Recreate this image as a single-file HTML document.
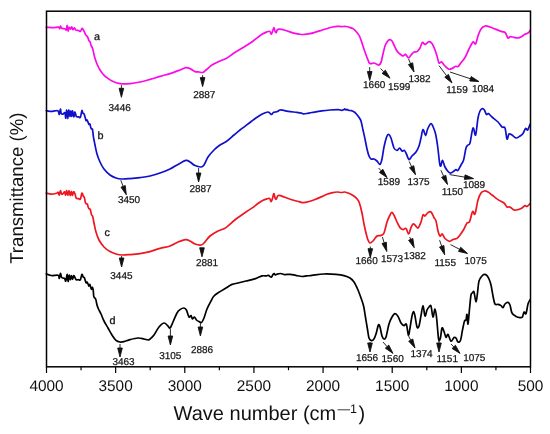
<!DOCTYPE html><html><head><meta charset="utf-8"><title>FTIR spectra</title>
<style>html,body{margin:0;padding:0;background:#fff;}svg{display:block;}text{font-family:"Liberation Sans",Arial,sans-serif;fill:#111;text-rendering:geometricPrecision;}</style></head><body>
<svg width="550" height="434" viewBox="0 0 550 434">
<rect width="550" height="434" fill="#fff"/>
<path d="M46.30 27.40 C47.43 27.43 51.07 27.63 53.10 27.60 C55.13 27.57 57.42 27.02 58.50 27.20 C59.58 27.38 59.27 28.90 59.60 28.70 C59.93 28.50 60.15 26.07 60.50 26.00 C60.85 25.93 60.97 27.85 61.70 28.30 C62.43 28.75 64.13 28.40 64.90 28.70 C65.67 29.00 65.92 30.63 66.30 30.10 C66.68 29.57 66.90 25.35 67.20 25.50 C67.50 25.65 67.80 30.68 68.10 31.00 C68.40 31.32 68.62 27.70 69.00 27.40 C69.38 27.10 69.95 29.28 70.40 29.20 C70.85 29.12 71.28 26.83 71.70 26.90 C72.12 26.97 72.43 29.45 72.90 29.60 C73.37 29.75 74.02 27.72 74.50 27.80 C74.98 27.88 75.13 29.65 75.80 30.10 C76.47 30.55 77.73 30.30 78.50 30.50 C79.27 30.70 79.82 31.63 80.40 31.30 C80.98 30.97 81.53 28.77 82.00 28.50 C82.47 28.23 82.78 29.10 83.20 29.70 C83.62 30.30 84.08 31.23 84.50 32.10 C84.92 32.97 85.30 34.23 85.70 34.90 C86.10 35.57 86.50 35.57 86.90 36.10 C87.30 36.63 87.77 37.35 88.10 38.10 C88.43 38.85 88.57 39.98 88.90 40.60 C89.23 41.22 89.77 41.07 90.10 41.80 C90.43 42.53 90.57 44.07 90.90 45.00 C91.23 45.93 91.77 46.67 92.10 47.40 C92.43 48.13 92.63 48.45 92.90 49.40 C93.17 50.35 93.42 51.83 93.70 53.10 C93.98 54.37 94.05 55.18 94.60 57.00 C95.15 58.82 96.10 61.83 97.00 64.00 C97.90 66.17 99.00 68.33 100.00 70.00 C101.00 71.67 102.00 72.83 103.00 74.00 C104.00 75.17 104.50 75.83 106.00 77.00 C107.50 78.17 109.67 79.90 112.00 81.00 C114.33 82.10 117.00 83.17 120.00 83.60 C123.00 84.03 126.67 83.87 130.00 83.60 C133.33 83.33 136.67 82.70 140.00 82.00 C143.33 81.30 146.67 80.33 150.00 79.40 C153.33 78.47 156.67 77.37 160.00 76.40 C163.33 75.43 166.67 74.67 170.00 73.60 C173.33 72.53 177.33 71.00 180.00 70.00 C182.67 69.00 184.33 67.83 186.00 67.60 C187.67 67.37 188.50 67.93 190.00 68.60 C191.50 69.27 193.50 71.03 195.00 71.60 C196.50 72.17 197.67 71.87 199.00 72.00 C200.33 72.13 201.83 72.73 203.00 72.40 C204.17 72.07 204.50 71.23 206.00 70.00 C207.50 68.77 209.67 66.50 212.00 65.00 C214.33 63.50 217.67 62.07 220.00 61.00 C222.33 59.93 223.67 59.93 226.00 58.60 C228.33 57.27 231.00 54.93 234.00 53.00 C237.00 51.07 240.97 48.87 244.00 47.00 C247.03 45.13 250.12 43.25 252.20 41.80 C254.28 40.35 254.87 39.55 256.50 38.30 C258.13 37.05 260.35 35.33 262.00 34.30 C263.65 33.27 265.13 32.60 266.40 32.10 C267.67 31.60 268.78 30.95 269.60 31.30 C270.42 31.65 270.75 34.38 271.30 34.20 C271.85 34.02 272.45 31.28 272.90 30.20 C273.35 29.12 273.63 27.52 274.00 27.70 C274.37 27.88 274.73 30.47 275.10 31.30 C275.47 32.13 275.83 32.93 276.20 32.70 C276.57 32.47 276.77 30.50 277.30 29.90 C277.83 29.30 278.13 29.05 279.40 29.10 C280.67 29.15 282.53 29.53 284.90 30.20 C287.27 30.87 291.23 32.43 293.60 33.10 C295.97 33.77 297.47 33.97 299.10 34.20 C300.73 34.43 301.58 34.60 303.40 34.50 C305.22 34.40 308.07 33.97 310.00 33.60 C311.93 33.23 313.03 32.87 315.00 32.30 C316.97 31.73 319.63 30.88 321.80 30.20 C323.97 29.52 326.18 28.73 328.00 28.20 C329.82 27.67 331.18 27.32 332.70 27.00 C334.22 26.68 335.65 26.37 337.10 26.30 C338.55 26.23 339.95 26.57 341.40 26.60 C342.85 26.63 344.33 26.33 345.80 26.50 C347.27 26.67 348.93 27.20 350.20 27.60 C351.47 28.00 352.32 28.13 353.40 28.90 C354.48 29.67 355.70 31.02 356.70 32.20 C357.70 33.38 358.52 34.20 359.40 36.00 C360.28 37.80 361.07 40.33 362.00 43.00 C362.93 45.67 364.00 49.17 365.00 52.00 C366.00 54.83 367.17 58.07 368.00 60.00 C368.83 61.93 369.00 63.10 370.00 63.60 C371.00 64.10 372.83 62.87 374.00 63.00 C375.17 63.13 376.17 64.07 377.00 64.40 C377.83 64.73 378.33 65.33 379.00 65.00 C379.67 64.67 380.33 64.23 381.00 62.40 C381.67 60.57 382.33 56.73 383.00 54.00 C383.67 51.27 384.33 48.00 385.00 46.00 C385.67 44.00 386.23 43.07 387.00 42.00 C387.77 40.93 388.77 39.77 389.60 39.60 C390.43 39.43 391.27 40.10 392.00 41.00 C392.73 41.90 393.17 43.33 394.00 45.00 C394.83 46.67 396.00 49.50 397.00 51.00 C398.00 52.50 399.00 53.17 400.00 54.00 C401.00 54.83 402.07 55.93 403.00 56.00 C403.93 56.07 404.67 54.07 405.60 54.40 C406.53 54.73 407.70 57.90 408.60 58.00 C409.50 58.10 410.10 56.00 411.00 55.00 C411.90 54.00 413.00 52.57 414.00 52.00 C415.00 51.43 416.00 52.27 417.00 51.60 C418.00 50.93 419.10 49.53 420.00 48.00 C420.90 46.47 421.57 43.00 422.40 42.40 C423.23 41.80 423.90 44.53 425.00 44.40 C426.10 44.27 427.83 41.73 429.00 41.60 C430.17 41.47 431.00 42.20 432.00 43.60 C433.00 45.00 434.17 47.93 435.00 50.00 C435.83 52.07 436.33 53.83 437.00 56.00 C437.67 58.17 438.25 62.03 439.00 63.00 C439.75 63.97 440.67 61.47 441.50 61.80 C442.33 62.13 443.25 64.13 444.00 65.00 C444.75 65.87 445.17 66.30 446.00 67.00 C446.83 67.70 447.92 68.98 449.00 69.20 C450.08 69.42 451.42 68.78 452.50 68.30 C453.58 67.82 454.58 66.58 455.50 66.30 C456.42 66.02 457.08 67.20 458.00 66.60 C458.92 66.00 459.83 64.22 461.00 62.70 C462.17 61.18 463.67 59.78 465.00 57.50 C466.33 55.22 467.67 51.58 469.00 49.00 C470.33 46.42 471.90 42.83 473.00 42.00 C474.10 41.17 474.77 45.00 475.60 44.00 C476.43 43.00 477.10 38.50 478.00 36.00 C478.90 33.50 479.83 30.67 481.00 29.00 C482.17 27.33 483.50 26.33 485.00 26.00 C486.50 25.67 488.17 26.43 490.00 27.00 C491.83 27.57 494.00 28.63 496.00 29.40 C498.00 30.17 500.47 31.07 502.00 31.60 C503.53 32.13 504.20 31.53 505.20 32.60 C506.20 33.67 507.13 37.33 508.00 38.00 C508.87 38.67 509.40 36.70 510.40 36.60 C511.40 36.50 512.85 37.17 514.00 37.40 C515.15 37.63 516.30 38.00 517.30 38.00 C518.30 38.00 519.05 37.78 520.00 37.40 C520.95 37.02 522.20 36.22 523.00 35.70 C523.80 35.18 524.13 34.65 524.80 34.30 C525.47 33.95 526.33 33.93 527.00 33.60 C527.67 33.27 528.27 32.87 528.80 32.30 C529.33 31.73 529.97 30.55 530.20 30.20" fill="none" stroke="#fa0ae6" stroke-width="1.7" stroke-linejoin="round" stroke-linecap="round"/>
<path d="M46.30 110.70 C47.13 110.82 49.87 111.37 51.30 111.40 C52.73 111.43 53.77 110.98 54.90 110.90 C56.03 110.82 57.37 110.30 58.10 110.90 C58.83 111.50 58.92 114.80 59.30 114.50 C59.68 114.20 60.07 109.25 60.40 109.10 C60.73 108.95 60.85 112.77 61.30 113.60 C61.75 114.43 62.50 114.25 63.10 114.10 C63.70 113.95 64.45 112.02 64.90 112.70 C65.35 113.38 65.50 118.65 65.80 118.20 C66.10 117.75 66.37 109.93 66.70 110.00 C67.03 110.07 67.47 118.60 67.80 118.60 C68.13 118.60 68.35 110.37 68.70 110.00 C69.05 109.63 69.55 116.25 69.90 116.40 C70.25 116.55 70.50 110.90 70.80 110.90 C71.10 110.90 71.40 116.40 71.70 116.40 C72.00 116.40 72.25 110.83 72.60 110.90 C72.95 110.97 73.42 116.65 73.80 116.80 C74.18 116.95 74.48 111.87 74.90 111.80 C75.32 111.73 75.70 115.57 76.30 116.40 C76.90 117.23 77.82 116.65 78.50 116.80 C79.18 116.95 79.83 118.33 80.40 117.30 C80.97 116.27 81.50 111.30 81.90 110.60 C82.30 109.90 82.45 112.55 82.80 113.10 C83.15 113.65 83.58 113.10 84.00 113.90 C84.42 114.70 84.95 116.77 85.30 117.90 C85.65 119.03 85.82 120.37 86.10 120.70 C86.38 121.03 86.67 119.63 87.00 119.90 C87.33 120.17 87.78 121.55 88.10 122.30 C88.42 123.05 88.60 124.12 88.90 124.40 C89.20 124.68 89.63 123.67 89.90 124.00 C90.17 124.33 90.27 125.60 90.50 126.40 C90.73 127.20 90.98 128.33 91.30 128.80 C91.62 129.27 92.13 128.60 92.40 129.20 C92.67 129.80 92.72 131.05 92.90 132.40 C93.08 133.75 93.28 135.87 93.50 137.30 C93.72 138.73 93.95 139.72 94.20 141.00 C94.45 142.28 94.53 142.83 95.00 145.00 C95.47 147.17 96.17 151.17 97.00 154.00 C97.83 156.83 98.83 159.50 100.00 162.00 C101.17 164.50 102.33 166.83 104.00 169.00 C105.67 171.17 108.00 173.50 110.00 175.00 C112.00 176.50 114.00 177.33 116.00 178.00 C118.00 178.67 119.67 178.90 122.00 179.00 C124.33 179.10 127.00 178.83 130.00 178.60 C133.00 178.37 136.67 178.03 140.00 177.60 C143.33 177.17 146.67 176.77 150.00 176.00 C153.33 175.23 156.67 174.17 160.00 173.00 C163.33 171.83 167.00 170.43 170.00 169.00 C173.00 167.57 175.33 165.83 178.00 164.40 C180.67 162.97 184.00 160.80 186.00 160.40 C188.00 160.00 188.50 161.13 190.00 162.00 C191.50 162.87 193.17 164.77 195.00 165.60 C196.83 166.43 199.50 167.10 201.00 167.00 C202.50 166.90 202.83 166.67 204.00 165.00 C205.17 163.33 206.33 159.50 208.00 157.00 C209.67 154.50 212.00 152.00 214.00 150.00 C216.00 148.00 217.83 146.50 220.00 145.00 C222.17 143.50 224.67 142.67 227.00 141.00 C229.33 139.33 231.83 136.83 234.00 135.00 C236.17 133.17 237.33 132.08 240.00 130.00 C242.67 127.92 247.42 124.45 250.00 122.50 C252.58 120.55 253.68 119.60 255.50 118.30 C257.32 117.00 259.27 115.63 260.90 114.70 C262.53 113.77 264.12 113.15 265.30 112.70 C266.48 112.25 267.28 111.97 268.00 112.00 C268.72 112.03 268.97 112.48 269.60 112.90 C270.23 113.32 271.17 114.58 271.80 114.50 C272.43 114.42 272.77 112.82 273.40 112.40 C274.03 111.98 274.95 112.13 275.60 112.00 C276.25 111.87 276.57 111.93 277.30 111.60 C278.03 111.27 279.10 110.23 280.00 110.00 C280.90 109.77 281.33 109.98 282.70 110.20 C284.07 110.42 285.83 110.93 288.20 111.30 C290.57 111.67 294.72 112.10 296.90 112.40 C299.08 112.70 300.22 112.87 301.30 113.10 C302.38 113.33 302.50 113.73 303.40 113.80 C304.30 113.87 305.27 113.72 306.70 113.50 C308.13 113.28 309.48 112.93 312.00 112.50 C314.52 112.07 318.80 111.32 321.80 110.90 C324.80 110.48 327.27 110.22 330.00 110.00 C332.73 109.78 336.30 109.55 338.20 109.60 C340.10 109.65 340.50 110.27 341.40 110.30 C342.30 110.33 343.05 110.03 343.60 109.80 C344.15 109.57 344.33 108.87 344.70 108.90 C345.07 108.93 345.43 109.92 345.80 110.00 C346.17 110.08 346.45 109.35 346.90 109.40 C347.35 109.45 347.77 110.08 348.50 110.30 C349.23 110.52 350.48 110.50 351.30 110.70 C352.12 110.90 352.68 111.10 353.40 111.50 C354.12 111.90 354.87 112.38 355.60 113.10 C356.33 113.82 357.17 114.98 357.80 115.80 C358.43 116.62 358.87 117.13 359.40 118.00 C359.93 118.87 360.40 119.00 361.00 121.00 C361.60 123.00 362.33 127.00 363.00 130.00 C363.67 133.00 364.33 135.83 365.00 139.00 C365.67 142.17 366.33 146.17 367.00 149.00 C367.67 151.83 368.33 154.33 369.00 156.00 C369.67 157.67 370.17 158.50 371.00 159.00 C371.83 159.50 373.00 158.67 374.00 159.00 C375.00 159.33 376.00 160.10 377.00 161.00 C378.00 161.90 379.17 164.73 380.00 164.40 C380.83 164.07 381.33 161.90 382.00 159.00 C382.67 156.10 383.23 150.67 384.00 147.00 C384.77 143.33 385.83 139.10 386.60 137.00 C387.37 134.90 387.87 134.23 388.60 134.40 C389.33 134.57 390.10 135.73 391.00 138.00 C391.90 140.27 393.00 145.93 394.00 148.00 C395.00 150.07 396.07 150.40 397.00 150.40 C397.93 150.40 398.77 147.90 399.60 148.00 C400.43 148.10 401.20 150.60 402.00 151.00 C402.80 151.40 403.67 149.90 404.40 150.40 C405.13 150.90 405.63 152.47 406.40 154.00 C407.17 155.53 408.07 159.27 409.00 159.60 C409.93 159.93 410.83 157.27 412.00 156.00 C413.17 154.73 414.83 153.67 416.00 152.00 C417.17 150.33 418.17 148.33 419.00 146.00 C419.83 143.67 420.33 140.73 421.00 138.00 C421.67 135.27 422.23 130.00 423.00 129.60 C423.77 129.20 424.83 135.70 425.60 135.60 C426.37 135.50 426.70 131.00 427.60 129.00 C428.50 127.00 430.00 123.77 431.00 123.60 C432.00 123.43 432.83 126.27 433.60 128.00 C434.37 129.73 434.93 131.00 435.60 134.00 C436.27 137.00 436.93 141.17 437.60 146.00 C438.27 150.83 439.07 159.67 439.60 163.00 C440.13 166.33 440.32 166.43 440.80 166.00 C441.28 165.57 441.80 160.23 442.50 160.40 C443.20 160.57 444.00 165.07 445.00 167.00 C446.00 168.93 447.50 171.00 448.50 172.00 C449.50 173.00 450.08 173.17 451.00 173.00 C451.92 172.83 453.17 171.57 454.00 171.00 C454.83 170.43 455.33 169.70 456.00 169.60 C456.67 169.50 457.17 171.17 458.00 170.40 C458.83 169.63 460.07 166.73 461.00 165.00 C461.93 163.27 462.77 162.83 463.60 160.00 C464.43 157.17 465.27 150.50 466.00 148.00 C466.73 145.50 467.33 145.83 468.00 145.00 C468.67 144.17 469.17 145.83 470.00 143.00 C470.83 140.17 472.07 129.33 473.00 128.00 C473.93 126.67 474.77 136.67 475.60 135.00 C476.43 133.33 477.27 122.00 478.00 118.00 C478.73 114.00 479.27 112.57 480.00 111.00 C480.73 109.43 481.67 108.77 482.40 108.60 C483.13 108.43 483.73 109.03 484.40 110.00 C485.07 110.97 485.73 113.80 486.40 114.40 C487.07 115.00 487.47 113.17 488.40 113.60 C489.33 114.03 490.40 115.60 492.00 117.00 C493.60 118.40 496.33 120.33 498.00 122.00 C499.67 123.67 500.83 126.00 502.00 127.00 C503.17 128.00 504.17 126.00 505.00 128.00 C505.83 130.00 506.33 138.00 507.00 139.00 C507.67 140.00 508.17 134.67 509.00 134.00 C509.83 133.33 510.83 134.33 512.00 135.00 C513.17 135.67 514.67 137.83 516.00 138.00 C517.33 138.17 518.83 136.73 520.00 136.00 C521.17 135.27 522.07 134.87 523.00 133.60 C523.93 132.33 524.83 129.00 525.60 128.40 C526.37 127.80 526.87 130.67 527.60 130.00 C528.33 129.33 529.60 125.33 530.00 124.40" fill="none" stroke="#1010cc" stroke-width="1.7" stroke-linejoin="round" stroke-linecap="round"/>
<path d="M46.30 193.20 C47.13 193.35 49.57 194.10 51.30 194.10 C53.03 194.10 55.57 193.50 56.70 193.20 C57.83 192.90 57.67 192.00 58.10 192.30 C58.53 192.60 58.92 195.27 59.30 195.00 C59.68 194.73 60.00 190.85 60.40 190.70 C60.80 190.55 61.25 193.62 61.70 194.10 C62.15 194.58 62.63 193.98 63.10 193.60 C63.57 193.22 64.08 191.57 64.50 191.80 C64.92 192.03 65.23 195.22 65.60 195.00 C65.97 194.78 66.33 190.42 66.70 190.50 C67.07 190.58 67.42 195.50 67.80 195.50 C68.18 195.50 68.60 190.50 69.00 190.50 C69.40 190.50 69.82 195.35 70.20 195.50 C70.58 195.65 70.93 191.40 71.30 191.40 C71.67 191.40 72.03 195.43 72.40 195.50 C72.77 195.57 73.08 192.12 73.50 191.80 C73.92 191.48 74.43 192.53 74.90 193.60 C75.37 194.67 75.70 197.37 76.30 198.20 C76.90 199.03 77.82 198.45 78.50 198.60 C79.18 198.75 79.83 200.02 80.40 199.10 C80.97 198.18 81.43 193.63 81.90 193.10 C82.37 192.57 82.77 195.10 83.20 195.90 C83.63 196.70 84.15 196.83 84.50 197.90 C84.85 198.97 85.03 201.33 85.30 202.30 C85.57 203.27 85.77 203.42 86.10 203.70 C86.43 203.98 86.97 203.48 87.30 204.00 C87.63 204.52 87.83 206.00 88.10 206.80 C88.37 207.60 88.57 208.40 88.90 208.80 C89.23 209.20 89.77 208.67 90.10 209.20 C90.43 209.73 90.67 211.07 90.90 212.00 C91.13 212.93 91.23 214.13 91.50 214.80 C91.77 215.47 92.22 215.32 92.50 216.00 C92.78 216.68 92.95 217.73 93.20 218.90 C93.45 220.07 93.53 220.82 94.00 223.00 C94.47 225.18 95.17 229.17 96.00 232.00 C96.83 234.83 97.67 237.50 99.00 240.00 C100.33 242.50 102.17 245.07 104.00 247.00 C105.83 248.93 108.00 250.43 110.00 251.60 C112.00 252.77 114.00 253.43 116.00 254.00 C118.00 254.57 119.67 254.90 122.00 255.00 C124.33 255.10 127.00 254.83 130.00 254.60 C133.00 254.37 136.67 254.10 140.00 253.60 C143.33 253.10 146.67 252.47 150.00 251.60 C153.33 250.73 156.67 249.33 160.00 248.40 C163.33 247.47 167.00 247.07 170.00 246.00 C173.00 244.93 175.40 243.07 178.00 242.00 C180.60 240.93 183.60 239.77 185.60 239.60 C187.60 239.43 188.43 240.27 190.00 241.00 C191.57 241.73 193.17 243.33 195.00 244.00 C196.83 244.67 199.50 245.17 201.00 245.00 C202.50 244.83 202.50 244.50 204.00 243.00 C205.50 241.50 207.67 238.00 210.00 236.00 C212.33 234.00 215.33 232.40 218.00 231.00 C220.67 229.60 223.00 229.60 226.00 227.60 C229.00 225.60 232.67 221.60 236.00 219.00 C239.33 216.40 243.22 213.90 246.00 212.00 C248.78 210.10 250.77 208.97 252.70 207.60 C254.63 206.23 255.87 205.03 257.60 203.80 C259.33 202.57 261.47 201.05 263.10 200.20 C264.73 199.35 266.32 199.00 267.40 198.70 C268.48 198.40 268.95 197.92 269.60 198.40 C270.25 198.88 270.75 201.88 271.30 201.60 C271.85 201.32 272.45 198.02 272.90 196.70 C273.35 195.38 273.60 193.37 274.00 193.70 C274.40 194.03 274.90 197.83 275.30 198.70 C275.70 199.57 276.03 199.32 276.40 198.90 C276.77 198.48 277.00 196.78 277.50 196.20 C278.00 195.62 278.17 195.22 279.40 195.40 C280.63 195.58 282.53 196.50 284.90 197.30 C287.27 198.10 291.23 199.48 293.60 200.20 C295.97 200.92 297.47 201.18 299.10 201.60 C300.73 202.02 301.58 202.77 303.40 202.70 C305.22 202.63 308.07 201.73 310.00 201.20 C311.93 200.67 313.03 200.27 315.00 199.50 C316.97 198.73 319.80 197.47 321.80 196.60 C323.80 195.73 325.18 194.97 327.00 194.30 C328.82 193.63 331.02 192.98 332.70 192.60 C334.38 192.22 335.65 192.02 337.10 192.00 C338.55 191.98 340.13 192.50 341.40 192.50 C342.67 192.50 343.60 191.92 344.70 192.00 C345.80 192.08 346.90 192.60 348.00 193.00 C349.10 193.40 350.22 193.82 351.30 194.40 C352.38 194.98 353.50 195.68 354.50 196.50 C355.50 197.32 356.48 198.22 357.30 199.30 C358.12 200.38 358.62 200.72 359.40 203.00 C360.18 205.28 361.23 209.50 362.00 213.00 C362.77 216.50 363.33 220.67 364.00 224.00 C364.67 227.33 365.33 230.33 366.00 233.00 C366.67 235.67 367.33 238.33 368.00 240.00 C368.67 241.67 369.17 242.83 370.00 243.00 C370.83 243.17 371.83 242.17 373.00 241.00 C374.17 239.83 375.67 236.93 377.00 236.00 C378.33 235.07 379.83 235.90 381.00 235.40 C382.17 234.90 383.00 235.23 384.00 233.00 C385.00 230.77 386.00 225.00 387.00 222.00 C388.00 219.00 389.17 216.60 390.00 215.00 C390.83 213.40 391.27 212.23 392.00 212.40 C392.73 212.57 393.57 214.40 394.40 216.00 C395.23 217.60 396.07 220.07 397.00 222.00 C397.93 223.93 399.00 226.33 400.00 227.60 C401.00 228.87 402.00 229.47 403.00 229.60 C404.00 229.73 405.07 227.67 406.00 228.40 C406.93 229.13 407.77 234.13 408.60 234.00 C409.43 233.87 410.27 229.27 411.00 227.60 C411.73 225.93 412.33 224.43 413.00 224.00 C413.67 223.57 414.17 224.33 415.00 225.00 C415.83 225.67 417.00 228.50 418.00 228.00 C419.00 227.50 420.17 224.17 421.00 222.00 C421.83 219.83 422.33 216.00 423.00 215.00 C423.67 214.00 424.17 216.40 425.00 216.00 C425.83 215.60 427.00 213.27 428.00 212.60 C429.00 211.93 430.00 211.17 431.00 212.00 C432.00 212.83 433.17 216.10 434.00 217.60 C434.83 219.10 435.33 218.77 436.00 221.00 C436.67 223.23 437.33 228.50 438.00 231.00 C438.67 233.50 439.30 235.50 440.00 236.00 C440.70 236.50 441.37 233.58 442.20 234.00 C443.03 234.42 443.78 237.28 445.00 238.50 C446.22 239.72 448.17 241.13 449.50 241.30 C450.83 241.47 451.75 239.98 453.00 239.50 C454.25 239.02 455.83 239.15 457.00 238.40 C458.17 237.65 458.83 236.57 460.00 235.00 C461.17 233.43 462.83 231.00 464.00 229.00 C465.17 227.00 466.07 224.23 467.00 223.00 C467.93 221.77 468.67 223.50 469.60 221.60 C470.53 219.70 471.70 212.87 472.60 211.60 C473.50 210.33 474.10 215.93 475.00 214.00 C475.90 212.07 477.00 203.50 478.00 200.00 C479.00 196.50 479.93 194.50 481.00 193.00 C482.07 191.50 483.23 191.17 484.40 191.00 C485.57 190.83 486.73 191.33 488.00 192.00 C489.27 192.67 490.33 193.73 492.00 195.00 C493.67 196.27 496.00 198.27 498.00 199.60 C500.00 200.93 502.50 201.77 504.00 203.00 C505.50 204.23 506.00 206.33 507.00 207.00 C508.00 207.67 508.83 206.50 510.00 207.00 C511.17 207.50 512.67 209.57 514.00 210.00 C515.33 210.43 516.67 209.93 518.00 209.60 C519.33 209.27 520.83 208.67 522.00 208.00 C523.17 207.33 524.17 205.87 525.00 205.60 C525.83 205.33 526.17 206.73 527.00 206.40 C527.83 206.07 529.50 204.07 530.00 203.60" fill="none" stroke="#ee1620" stroke-width="1.7" stroke-linejoin="round" stroke-linecap="round"/>
<path d="M46.30 273.80 C47.13 274.08 49.33 275.27 51.30 275.50 C53.27 275.73 56.77 274.72 58.10 275.20 C59.43 275.68 58.92 278.70 59.30 278.40 C59.68 278.10 60.00 273.55 60.40 273.40 C60.80 273.25 61.02 276.67 61.70 277.50 C62.38 278.33 63.82 277.80 64.50 278.40 C65.18 279.00 65.35 281.78 65.80 281.10 C66.25 280.42 66.82 274.23 67.20 274.30 C67.58 274.37 67.75 281.35 68.10 281.50 C68.45 281.65 68.92 275.50 69.30 275.20 C69.68 274.90 70.03 279.63 70.40 279.70 C70.77 279.77 71.13 275.67 71.50 275.60 C71.87 275.53 72.22 279.30 72.60 279.30 C72.98 279.30 73.38 275.83 73.80 275.60 C74.22 275.37 74.68 277.22 75.10 277.90 C75.52 278.58 75.73 279.40 76.30 279.70 C76.87 280.00 77.82 279.70 78.50 279.70 C79.18 279.70 79.83 280.58 80.40 279.70 C80.97 278.82 81.43 274.87 81.90 274.40 C82.37 273.93 82.80 276.35 83.20 276.90 C83.60 277.45 83.93 277.03 84.30 277.70 C84.67 278.37 85.10 280.03 85.40 280.90 C85.70 281.77 85.83 282.70 86.10 282.90 C86.37 283.10 86.67 281.90 87.00 282.10 C87.33 282.30 87.78 283.43 88.10 284.10 C88.42 284.77 88.60 286.03 88.90 286.10 C89.20 286.17 89.60 284.30 89.90 284.50 C90.20 284.70 90.43 286.48 90.70 287.30 C90.97 288.12 91.22 289.40 91.50 289.40 C91.78 289.40 92.12 287.17 92.40 287.30 C92.68 287.43 92.98 288.78 93.20 290.20 C93.42 291.62 93.48 294.53 93.70 295.80 C93.92 297.07 94.23 297.37 94.50 297.80 C94.77 298.23 95.03 297.93 95.30 298.40 C95.57 298.87 95.82 299.50 96.10 300.60 C96.38 301.70 96.60 303.60 97.00 305.00 C97.40 306.40 97.83 307.50 98.50 309.00 C99.17 310.50 100.08 312.00 101.00 314.00 C101.92 316.00 102.83 318.67 104.00 321.00 C105.17 323.33 106.67 325.67 108.00 328.00 C109.33 330.33 110.67 332.93 112.00 335.00 C113.33 337.07 114.67 339.23 116.00 340.40 C117.33 341.57 118.67 341.80 120.00 342.00 C121.33 342.20 122.33 342.00 124.00 341.60 C125.67 341.20 127.67 340.20 130.00 339.60 C132.33 339.00 135.67 338.10 138.00 338.00 C140.33 337.90 142.33 338.67 144.00 339.00 C145.67 339.33 147.00 340.00 148.00 340.00 C149.00 340.00 149.00 339.83 150.00 339.00 C151.00 338.17 152.50 337.00 154.00 335.00 C155.50 333.00 157.33 329.00 159.00 327.00 C160.67 325.00 162.57 323.23 164.00 323.00 C165.43 322.77 166.60 324.77 167.60 325.60 C168.60 326.43 169.10 328.60 170.00 328.00 C170.90 327.40 171.83 324.50 173.00 322.00 C174.17 319.50 175.83 315.07 177.00 313.00 C178.17 310.93 178.83 310.43 180.00 309.60 C181.17 308.77 182.93 307.93 184.00 308.00 C185.07 308.07 185.57 308.50 186.40 310.00 C187.23 311.50 188.23 316.07 189.00 317.00 C189.77 317.93 190.43 315.27 191.00 315.60 C191.57 315.93 191.83 318.77 192.40 319.00 C192.97 319.23 193.73 316.83 194.40 317.00 C195.07 317.17 195.63 319.23 196.40 320.00 C197.17 320.77 198.13 321.20 199.00 321.60 C199.87 322.00 200.77 323.00 201.60 322.40 C202.43 321.80 203.10 320.23 204.00 318.00 C204.90 315.77 205.83 311.83 207.00 309.00 C208.17 306.17 209.83 303.17 211.00 301.00 C212.17 298.83 212.50 297.57 214.00 296.00 C215.50 294.43 218.00 292.93 220.00 291.60 C222.00 290.27 224.00 289.20 226.00 288.00 C228.00 286.80 230.00 285.23 232.00 284.40 C234.00 283.57 235.67 283.57 238.00 283.00 C240.33 282.43 243.08 281.73 246.00 281.00 C248.92 280.27 252.83 279.45 255.50 278.60 C258.17 277.75 260.18 276.35 262.00 275.90 C263.82 275.45 265.32 275.98 266.40 275.90 C267.48 275.82 267.68 275.18 268.50 275.40 C269.32 275.62 270.57 277.33 271.30 277.20 C272.03 277.07 272.42 275.18 272.90 274.60 C273.38 274.02 273.80 273.63 274.20 273.70 C274.60 273.77 274.88 274.90 275.30 275.00 C275.72 275.10 275.83 274.55 276.70 274.30 C277.57 274.05 279.13 273.45 280.50 273.50 C281.87 273.55 283.27 274.47 284.90 274.60 C286.53 274.73 288.48 274.17 290.30 274.30 C292.12 274.43 293.80 275.03 295.80 275.40 C297.80 275.77 300.48 276.42 302.30 276.50 C304.12 276.58 305.08 276.08 306.70 275.90 C308.32 275.72 309.12 275.72 312.00 275.40 C314.88 275.08 320.00 274.17 324.00 274.00 C328.00 273.83 332.67 274.13 336.00 274.40 C339.33 274.67 341.67 275.00 344.00 275.60 C346.33 276.20 348.33 276.93 350.00 278.00 C351.67 279.07 352.67 280.00 354.00 282.00 C355.33 284.00 356.83 287.33 358.00 290.00 C359.17 292.67 360.07 295.33 361.00 298.00 C361.93 300.67 362.83 302.67 363.60 306.00 C364.37 309.33 364.93 314.00 365.60 318.00 C366.27 322.00 367.03 326.67 367.60 330.00 C368.17 333.33 368.43 336.27 369.00 338.00 C369.57 339.73 370.23 340.13 371.00 340.40 C371.77 340.67 372.77 340.67 373.60 339.60 C374.43 338.53 375.20 336.43 376.00 334.00 C376.80 331.57 377.73 326.17 378.40 325.00 C379.07 323.83 379.40 325.17 380.00 327.00 C380.60 328.83 381.33 334.00 382.00 336.00 C382.67 338.00 383.33 338.83 384.00 339.00 C384.67 339.17 385.17 339.50 386.00 337.00 C386.83 334.50 388.00 327.33 389.00 324.00 C390.00 320.67 391.00 318.73 392.00 317.00 C393.00 315.27 394.00 313.70 395.00 313.60 C396.00 313.50 397.00 314.83 398.00 316.40 C399.00 317.97 400.00 321.47 401.00 323.00 C402.00 324.53 403.10 325.37 404.00 325.60 C404.90 325.83 405.67 322.83 406.40 324.40 C407.13 325.97 407.80 334.40 408.40 335.00 C409.00 335.60 409.40 331.17 410.00 328.00 C410.60 324.83 411.40 318.73 412.00 316.00 C412.60 313.27 413.10 311.60 413.60 311.60 C414.10 311.60 414.43 313.43 415.00 316.00 C415.57 318.57 416.33 325.33 417.00 327.00 C417.67 328.67 418.33 327.90 419.00 326.00 C419.67 324.10 420.33 319.00 421.00 315.60 C421.67 312.20 422.33 305.53 423.00 305.60 C423.67 305.67 424.33 315.27 425.00 316.00 C425.67 316.73 426.33 311.50 427.00 310.00 C427.67 308.50 428.33 307.67 429.00 307.00 C429.67 306.33 430.33 304.33 431.00 306.00 C431.67 307.67 432.33 316.50 433.00 317.00 C433.67 317.50 434.40 308.83 435.00 309.00 C435.60 309.17 436.00 313.00 436.60 318.00 C437.20 323.00 437.97 335.67 438.60 339.00 C439.23 342.33 439.83 339.83 440.40 338.00 C440.97 336.17 441.40 329.08 442.00 328.00 C442.60 326.92 443.33 329.95 444.00 331.50 C444.67 333.05 445.33 336.82 446.00 337.30 C446.67 337.78 447.17 333.75 448.00 334.40 C448.83 335.05 450.00 340.68 451.00 341.20 C452.00 341.72 453.17 338.03 454.00 337.50 C454.83 336.97 455.33 337.25 456.00 338.00 C456.67 338.75 457.25 341.63 458.00 342.00 C458.75 342.37 459.75 342.20 460.50 340.20 C461.25 338.20 461.83 333.20 462.50 330.00 C463.17 326.80 463.92 322.67 464.50 321.00 C465.08 319.33 465.58 321.10 466.00 320.00 C466.42 318.90 466.67 313.73 467.00 314.40 C467.33 315.07 467.57 325.07 468.00 324.00 C468.43 322.93 469.10 312.83 469.60 308.00 C470.10 303.17 470.53 297.50 471.00 295.00 C471.47 292.50 471.90 293.50 472.40 293.00 C472.90 292.50 473.40 290.50 474.00 292.00 C474.60 293.50 475.40 302.00 476.00 302.00 C476.60 302.00 477.10 295.50 477.60 292.00 C478.10 288.50 478.27 283.67 479.00 281.00 C479.73 278.33 481.10 277.10 482.00 276.00 C482.90 274.90 483.57 274.47 484.40 274.40 C485.23 274.33 486.23 274.83 487.00 275.60 C487.77 276.37 488.33 277.43 489.00 279.00 C489.67 280.57 490.33 282.17 491.00 285.00 C491.67 287.83 492.33 292.83 493.00 296.00 C493.67 299.17 494.17 302.60 495.00 304.00 C495.83 305.40 497.00 304.13 498.00 304.40 C499.00 304.67 500.17 305.07 501.00 305.60 C501.83 306.13 502.33 307.87 503.00 307.60 C503.67 307.33 504.17 304.87 505.00 304.00 C505.83 303.13 507.17 302.23 508.00 302.40 C508.83 302.57 509.33 303.23 510.00 305.00 C510.67 306.77 511.00 311.10 512.00 313.00 C513.00 314.90 514.67 315.63 516.00 316.40 C517.33 317.17 518.93 317.50 520.00 317.60 C521.07 317.70 521.73 317.93 522.40 317.00 C523.07 316.07 523.40 312.57 524.00 312.00 C524.60 311.43 525.33 314.93 526.00 313.60 C526.67 312.27 527.33 306.27 528.00 304.00 C528.67 301.73 529.67 300.67 530.00 300.00" fill="none" stroke="#000000" stroke-width="1.7" stroke-linejoin="round" stroke-linecap="round"/>
<g font-size="10.8" stroke="#222" stroke-width="0.3">
<text x="94" y="39.7">a</text>
<text x="97.6" y="139">b</text>
<text x="104.4" y="235.6">c</text>
<text x="109.6" y="324">d</text>
</g>
<g stroke="#111" stroke-width="0.9" fill="#111">
<line x1="121.40" y1="85.20" x2="121.40" y2="88.30"/><polygon points="119.10,88.30 121.40,97.30 123.70,88.30"/>
<line x1="202.60" y1="75.20" x2="202.60" y2="77.60"/><polygon points="200.30,77.60 202.60,86.60 204.90,77.60"/>
<line x1="369.70" y1="67.00" x2="369.70" y2="71.50"/><polygon points="367.40,71.50 369.70,80.50 372.00,71.50"/>
<line x1="380.50" y1="68.50" x2="383.70" y2="71.77"/><polygon points="382.06,73.38 390.00,78.20 385.35,70.16"/>
<line x1="408.60" y1="59.00" x2="410.55" y2="63.69"/><polygon points="408.42,64.57 414.00,72.00 412.67,62.81"/>
<line x1="439.00" y1="65.60" x2="446.61" y2="75.79"/><polygon points="444.77,77.17 452.00,83.00 448.46,74.41"/>
<line x1="450.00" y1="72.00" x2="470.46" y2="78.77"/><polygon points="469.73,80.96 479.00,81.60 471.18,76.59"/>
<line x1="120.80" y1="180.20" x2="123.13" y2="186.38"/><polygon points="120.97,187.19 126.30,194.80 125.28,185.57"/>
<line x1="198.60" y1="168.00" x2="198.60" y2="173.00"/><polygon points="196.30,173.00 198.60,182.00 200.90,173.00"/>
<line x1="378.60" y1="168.00" x2="381.13" y2="170.86"/><polygon points="379.41,172.39 387.10,177.60 382.86,169.34"/>
<line x1="409.20" y1="161.50" x2="411.65" y2="166.67"/><polygon points="409.57,167.65 415.50,174.80 413.73,165.68"/>
<line x1="440.90" y1="170.30" x2="443.71" y2="176.34"/><polygon points="441.62,177.31 447.50,184.50 445.79,175.37"/>
<line x1="449.60" y1="174.60" x2="464.72" y2="177.12"/><polygon points="464.34,179.39 473.60,178.60 465.10,174.85"/>
<line x1="121.60" y1="256.00" x2="121.60" y2="258.00"/><polygon points="119.30,258.00 121.60,267.00 123.90,258.00"/>
<line x1="202.00" y1="247.70" x2="202.00" y2="247.80"/><polygon points="199.70,247.80 202.00,256.80 204.30,247.80"/>
<line x1="370.30" y1="246.50" x2="370.30" y2="248.70"/><polygon points="368.00,248.70 370.30,257.70 372.60,248.70"/>
<line x1="382.40" y1="237.00" x2="384.19" y2="242.89"/><polygon points="381.99,243.56 386.80,251.50 386.39,242.22"/>
<line x1="409.70" y1="237.00" x2="410.71" y2="239.40"/><polygon points="408.59,240.30 414.20,247.70 412.83,238.51"/>
<line x1="439.60" y1="240.20" x2="441.73" y2="246.30"/><polygon points="439.56,247.06 444.70,254.80 443.90,245.54"/>
<line x1="450.50" y1="244.60" x2="459.62" y2="249.34"/><polygon points="458.55,251.39 467.60,253.50 460.68,247.30"/>
<line x1="120.00" y1="344.00" x2="120.00" y2="348.00"/><polygon points="117.70,348.00 120.00,357.00 122.30,348.00"/>
<line x1="170.40" y1="329.00" x2="170.40" y2="336.00"/><polygon points="168.10,336.00 170.40,345.00 172.70,336.00"/>
<line x1="200.40" y1="323.00" x2="200.40" y2="327.00"/><polygon points="198.10,327.00 200.40,336.00 202.70,327.00"/>
<line x1="370.00" y1="342.00" x2="370.00" y2="343.00"/><polygon points="367.70,343.00 370.00,352.00 372.30,343.00"/>
<line x1="383.00" y1="342.00" x2="387.07" y2="346.63"/><polygon points="385.34,348.15 393.00,353.40 388.79,345.12"/>
<line x1="408.00" y1="335.00" x2="410.73" y2="340.08"/><polygon points="408.71,341.17 415.00,348.00 412.76,338.99"/>
<line x1="439.00" y1="340.00" x2="439.00" y2="343.00"/><polygon points="436.70,343.00 439.00,352.00 441.30,343.00"/>
<line x1="451.00" y1="344.00" x2="453.78" y2="346.90"/><polygon points="452.11,348.49 460.00,353.40 455.44,345.31"/>
</g>
<g font-size="10" text-anchor="middle" stroke="#222" stroke-width="0.25">
<text x="119.7" y="111.3">3446</text>
<text x="204.3" y="97.6">2887</text>
<text x="374.2" y="87.8">1660</text>
<text x="399.2" y="89.8">1599</text>
<text x="419.5" y="81.6">1382</text>
<text x="457.0" y="93.0">1159</text>
<text x="483.0" y="92.4">1084</text>
<text x="129.0" y="203.4">3450</text>
<text x="200.5" y="192.4">2887</text>
<text x="388.9" y="185.4">1589</text>
<text x="418.5" y="184.8">1375</text>
<text x="452.4" y="195.4">1150</text>
<text x="474.0" y="187.7">1089</text>
<text x="121.4" y="279.0">3445</text>
<text x="207.0" y="265.5">2881</text>
<text x="366.6" y="264.0">1660</text>
<text x="392.0" y="261.7">1573</text>
<text x="414.8" y="258.5">1382</text>
<text x="445.2" y="266.3">1155</text>
<text x="475.7" y="263.7">1075</text>
<text x="123.5" y="364.6">3463</text>
<text x="170.3" y="358.6">3105</text>
<text x="202.0" y="353.0">2886</text>
<text x="367.0" y="361.0">1656</text>
<text x="392.7" y="362.4">1560</text>
<text x="421.5" y="357.4">1374</text>
<text x="447.2" y="362.0">1151</text>
<text x="474.3" y="361.4">1075</text>
</g>
<rect x="46.50" y="11.20" width="484.00" height="355.60" fill="none" stroke="#000" stroke-width="1.5"/>
<g stroke="#000" stroke-width="1.2"><line x1="530.50" y1="366.80" x2="530.50" y2="373.00"/><line x1="495.93" y1="366.80" x2="495.93" y2="370.20"/><line x1="461.36" y1="366.80" x2="461.36" y2="373.00"/><line x1="426.79" y1="366.80" x2="426.79" y2="370.20"/><line x1="392.21" y1="366.80" x2="392.21" y2="373.00"/><line x1="357.64" y1="366.80" x2="357.64" y2="370.20"/><line x1="323.07" y1="366.80" x2="323.07" y2="373.00"/><line x1="288.50" y1="366.80" x2="288.50" y2="370.20"/><line x1="253.93" y1="366.80" x2="253.93" y2="373.00"/><line x1="219.36" y1="366.80" x2="219.36" y2="370.20"/><line x1="184.79" y1="366.80" x2="184.79" y2="373.00"/><line x1="150.21" y1="366.80" x2="150.21" y2="370.20"/><line x1="115.64" y1="366.80" x2="115.64" y2="373.00"/><line x1="81.07" y1="366.80" x2="81.07" y2="370.20"/><line x1="46.50" y1="366.80" x2="46.50" y2="373.00"/></g>
<g font-size="15.4" text-anchor="middle">
<text x="530.50" y="390.5">500</text>
<text x="461.36" y="390.5">1000</text>
<text x="392.21" y="390.5">1500</text>
<text x="323.07" y="390.5">2000</text>
<text x="253.93" y="390.5">2500</text>
<text x="184.79" y="390.5">3000</text>
<text x="115.64" y="390.5">3500</text>
<text x="46.50" y="390.5">4000</text>
</g>
<text x="173.6" y="419.9" font-size="20">Wave number (cm<tspan font-size="12.5" dx="1.2" dy="-6.6">&#8212;1</tspan><tspan dx="1.6" dy="6.6">)</tspan></text>
<text transform="translate(23.4 263.8) rotate(-90)" font-size="18.6">Transmittance (%)</text>
</svg></body></html>
